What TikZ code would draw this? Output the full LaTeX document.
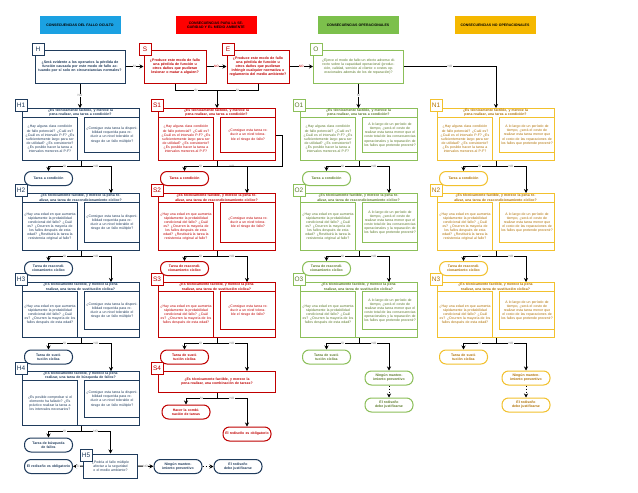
\documentclass[tikz,border=0pt]{standalone}
\usepackage{fontspec}
\setmainfont{Liberation Sans}
\usetikzlibrary{arrows.meta,calc}
\definecolor{hb}{HTML}{1F3B5C}
\definecolor{sb}{HTML}{C00000}
\definecolor{ob}{HTML}{8CBF5A}
\definecolor{ot}{HTML}{5A7A28}
\definecolor{nb}{HTML}{F2C12E}
\definecolor{nt}{HTML}{B07000}
\definecolor{hcyan}{HTML}{1BA1E2}
\definecolor{hred}{HTML}{FF0000}
\definecolor{hgreen}{HTML}{7CC04C}
\definecolor{hor}{HTML}{F5B800}
\tikzset{
 arr/.style={-{Stealth[length=4pt,width=4pt]}, line width=1pt, black},
 ln/.style={line width=1pt, black},
 lbl/.style={font=\fontsize{3.2}{3.2}\selectfont, text=gray, fill=white, inner sep=0.3pt},
 bx/.style={draw=#1, line width=1pt, inner sep=1pt, fill=white},
 tx/.style={font=\fontsize{3.5}{4.1}\selectfont, align=center},
 term/.style={draw=#1, line width=1pt, rounded corners=6.5pt, minimum width=48pt, minimum height=14pt, fill=white, align=center, inner sep=0.5pt, text width=45pt, font=\fontsize{3.5}{4.1}\selectfont\bfseries},
 hdr/.style={fill=#1, minimum width=81pt, minimum height=18pt, text width=76pt, align=center, font=\fontsize{3.5}{4.1}\selectfont\bfseries, inner sep=1pt},
 labsq/.style={bx=#1, minimum size=12pt, font=\fontsize{6.5}{6.5}\selectfont},
 top/.style={bx=#1, minimum height=33pt, align=center, font=\fontsize{3.6}{4.2}\selectfont\bfseries},
}
\newcommand\qblk[9]{%
 \node[bx=#5, anchor=north west, minimum width=117pt, minimum height={(#4-#3)*1pt}] (#1) at (#2,#3) {};
 \node[tx, text=#6, text width=112pt, inner sep=0pt] at (#2+58.5,#3+5) {\bfseries #7};
 \node[bx=#5, tx, text=#6, anchor=north west, minimum width=55pt, minimum height={(#4-#3-9)*1pt}, text width=52pt] (#1l) at (#2,#3+9) {#8};
 \node[bx=#5, tx, text=#6, anchor=north west, minimum width=55pt, minimum height={(#4-#3-17)*1pt}, text width=52pt] (#1r) at (#2+62,#3+9) {#9};
}
\def\tA{¿Es técnicamente factible, y merece la pena realizar, una tarea a condición?}
\def\tB{¿Es técnicamente factible, y merece la pena realizar, una tarea de reacondicionamiento cíclico?}
\def\tC{¿Es técnicamente factible, y merece la pena realizar, una tarea de sustitución cíclica?}
\def\lA{¿Hay alguna clara condición de fallo potencial? ¿Cuál es? ¿Cuál es el intervalo P-F? ¿Es suficientemente largo para ser de utilidad? ¿Es consistente? ¿Es posible hacer la tarea a intervalos menores al P-F?}
\def\lB{¿Hay una edad en que aumenta rápidamente la probabilidad condicional del fallo? ¿Cuál es? ¿Ocurren la mayoría de los fallos después de esta edad? ¿Restituirá la tarea la resistencia original al fallo?}
\def\lC{¿Hay una edad en que aumenta rápidamente la probabilidad condicional del fallo? ¿Cuál es? ¿Ocurren la mayoría de los fallos después de esta edad?}
\def\rH{¿Consigue esta tarea la disponibilidad requerida para reducir a un nivel tolerable el riesgo de un fallo múltiple?}
\def\rS{¿Consigue esta tarea reducir a un nivel tolerable el riesgo de fallo?}
\def\rO{A lo largo de un período de tiempo, ¿será el costo de realizar esta tarea menor que el costo total de las consecuencias operacionales y la reparación de los fallos que pretende prevenir?}
\def\rN{A lo largo de un período de tiempo, ¿será el costo de realizar esta tarea menor que el costo de las reparaciones de los fallos que pretende prevenir?}
\begin{document}
\begin{tikzpicture}[x=1pt,y=-1pt]
\useasboundingbox[fill=white] (0,0) rectangle (638,493);
% headers
\node[hdr=hcyan] (hh) at (80,25) {CONSECUENCIAS DEL FALLO OCULTO};
\node[hdr=hred] (hs) at (216,25) {CONSECUENCIAS PARA LA SEGURIDAD Y EL MEDIO AMBIENTE};
\node[hdr=hgreen] (ho) at (358,25) {CONSECUENCIAS OPERACIONALES};
\node[hdr=hor] (hn) at (495,25) {CONSECUENCIAS NO OPERACIONALES};
% top questions
\node[top=hb, text=hb, minimum width=90pt, text width=84pt] (H) at (80,66.5) {¿Será evidente a los operarios la pérdida de función causada por este modo de fallo actuando por sí solo en circunstancias normales?};
\node[top=sb, text=sb, minimum width=62pt, text width=58pt] (S) at (175,66.5) {¿Produce este modo de fallo una pérdida de función u otros daños que pudieran lesionar o matar a alguien?};
\node[top=sb, text=sb, minimum width=62pt, text width=58pt] (E) at (258,66.5) {¿Produce este modo de fallo una pérdida de función u otros daños que pudieran infringir cualquier normativa o reglamento del medio ambiente?};
\node[top=ob, text=ot, minimum width=90pt, text width=86pt, font=\fontsize{3.5}{4.1}\selectfont] (O) at (358.5,66.5) {¿Ejerce el modo de fallo un efecto adverso directo sobre la capacidad operacional (producción, calidad, servicio al cliente o costes operacionales además de los de reparación)?};
\node[labsq=hb, text=hb] at (38,49) {H};
\node[labsq=sb, text=sb] at (145,49) {S};
\node[labsq=sb, text=sb] at (228,49) {E};
\node[labsq=ob, text=ot] at (316,49) {O};
% blocks H
\qblk{H1}{22}{108}{160}{hb}{hb}{\tA}{\lA}{\rH}
\qblk{H2}{22}{193}{250}{hb}{hb}{\tB}{\lB}{\rH}
\qblk{H3}{22}{282}{337}{hb}{hb}{\tC}{\lC}{\rH}
\qblk{H4}{22}{371}{425}{hb}{hb}{¿Es técnicamente factible, y merece la pena realizar, una tarea de búsqueda de fallos?}{¿Es posible comprobar si el elemento ha fallado? ¿Es práctico realizar la tarea a los intervalos necesarios?}{\rH}
% blocks S
\qblk{S1}{158}{108}{160}{sb}{sb}{\tA}{\lA}{\rS}
\qblk{S2}{158}{193}{250}{sb}{sb}{\tB}{\lB}{\rS}
\qblk{S3}{158}{282}{337}{sb}{sb}{\tC}{\lC}{\rS}
\node[bx=sb, anchor=north west, minimum width=117pt, minimum height=21pt, tx, text=sb, text width=112pt] (S4) at (158,371) {\bfseries ¿Es técnicamente factible, y merece la pena realizar, una combinación de tareas?};
% blocks O, N
\qblk{O1}{300}{108}{160}{ob}{ot}{\tA}{\lA}{\rO}
\qblk{O2}{300}{193}{250}{ob}{ot}{\tB}{\lB}{\rO}
\qblk{O3}{300}{282}{337}{ob}{ot}{\tC}{\lC}{\rO}
\qblk{N1}{437}{108}{160}{nb}{nt}{\tA}{\lA}{\rN}
\qblk{N2}{437}{193}{250}{nb}{nt}{\tB}{\lB}{\rN}
\qblk{N3}{437}{282}{337}{nb}{nt}{\tC}{\lC}{\rN}
% labels
\foreach \c/\tc/\x/\n in {hb/hb/21/H,sb/sb/157/S,ob/ot/299/O,nb/nt/436/N}{
 \node[labsq=\c, text=\tc] at (\x,105) {\n1};
 \node[labsq=\c, text=\tc] at (\x,190) {\n2};
 \node[labsq=\c, text=\tc] at (\x,279) {\n3};
}
\node[labsq=hb, text=hb] at (21,368) {H4};
\node[labsq=sb, text=sb] at (157,368) {S4};
% terminals
\foreach \c/\tc/\n/\cx in {hb/hb/H/80.5,sb/sb/S/216.5,ob/ot/O/358.5,nb/nt/N/495.5}{
 \node[term=\c, text=\tc] (\n t1) at (\cx-32,178.5) {Tarea a condición};
 \node[term=\c, text=\tc] (\n t2) at (\cx-32,268.5) {Tarea de reacondicionamiento cíclico};
 \node[term=\c, text=\tc] (\n t3) at (\cx-32,357) {Tarea de sustitución cíclica};
}
\node[term=hb, text=hb] (Ht4) at (48.5,445) {Tarea de búsqueda de fallos};
\node[bx=hb, tx, text=hb, minimum width=54pt, minimum height=24pt, text width=50pt] (H5) at (110.5,466) {¿Podría el fallo múltiple afectar a la seguridad o el medio ambiente?};
\node[labsq=hb, text=hb] at (86,455) {H5};
\node[term=hb, text=hb] (Hr) at (48.5,466.5) {El rediseño es obligatorio};
\node[term=hb, text=hb] (Hm) at (178,466.5) {Ningún mantenimiento preventivo};
\node[term=hb, text=hb] (Hj) at (238,466.5) {El rediseño debe justificarse};
\node[term=sb, text=sb] (Sc) at (186,412) {Hacer la combinación de tareas};
\node[term=sb, text=sb] (Sr) at (247,434) {El rediseño es obligatorio};
\node[term=ob, text=ot] (Om) at (389,378) {Ningún mantenimiento preventivo};
\node[term=ob, text=ot] (Oj) at (389,405) {El rediseño debe justificarse};
\node[term=nb, text=nt] (Nm) at (526,378) {Ningún mantenimiento preventivo};
\node[term=nb, text=nt] (Nj) at (526,405) {El rediseño debe justificarse};
% top connectors
\draw[arr] (H) -- node[lbl]{SI} (S);
\draw[arr] (S) -- node[lbl,text=sb]{NO} (E);
\draw[arr] (E) -- node[lbl,text=sb]{NO} (O);
\draw[arr] (H.south) -- node[lbl]{NO} (H.south |- H1.north);
\draw[ln] (S.south) |- node[lbl,pos=0.75]{SI} ([yshift=18pt]S1.north);
\draw[ln] (E.south) |- node[lbl,pos=0.75]{SI} ([yshift=18pt]S1.north);
\draw[arr] ([yshift=18pt]S1.north) -- (S1.north);
\draw[arr] (O.south) -- node[lbl]{SI} (O.south |- O1.north);
\draw[arr] (O.east) -| node[lbl,pos=0.25]{NO} (N1.north);
% branches
\foreach \n in {H,S,O,N}{
 \draw[arr] (\n1.south) -- ++(0,5) -| node[lbl,pos=0.25]{SI} (\n t1.north);
 \draw[arr] (\n1.south) -- ++(0,5) -| node[lbl,pos=0.25]{NO} ([xshift=30pt]\n2.north);
 \draw[arr] (\n2.south) -- ++(0,5) -| node[lbl,pos=0.25]{SI} (\n t2.north);
 \draw[arr] (\n2.south) -- ++(0,5) -| node[lbl,pos=0.25]{NO} ([xshift=30pt]\n3.north);
 \draw[arr] (\n3.south) -- ++(0,5) -| node[lbl,pos=0.25]{SI} (\n t3.north);
}
\draw[arr] (H3.south) -- ++(0,5) -| node[lbl,pos=0.25]{NO} ([xshift=30pt]H4.north);
\draw[arr] (S3.south) -- ++(0,5) -| node[lbl,pos=0.25]{NO} ([xshift=30pt]S4.north);
\draw[arr] (O3.south) -- ++(0,5) -| node[lbl,pos=0.25]{NO} (Om.north);
\draw[arr] (N3.south) -- ++(0,5) -| node[lbl,pos=0.25]{NO} (Nm.north);
\draw[arr] (H4.south) -- ++(0,5) -| node[lbl,pos=0.25]{SI} (Ht4.north);
\draw[arr] (H4.south) -- ++(0,5) -| node[lbl,pos=0.25]{NO} (H5.north);
\draw[arr] (S4.south) -- ++(0,5) -| node[lbl,pos=0.25]{SI} (Sc.north);
\draw[arr] (S4.south) -- ++(0,5) -| node[lbl,pos=0.25]{NO} (Sr.north);
\draw[arr] (H5) -- node[lbl]{SI} (Hr);
\draw[arr] (H5) -- node[lbl]{NO} (Hm);
\draw[arr, dotted] (Hm) -- (Hj);
\draw[arr, dotted] (Om) -- (Oj);
\draw[arr, dotted] (Nm) -- (Nj);
\draw[ln] (S1r.east) -- ([xshift=6pt]S1r.east) |- ([yshift=-5pt]S1.south);
\end{tikzpicture}
\end{document}
